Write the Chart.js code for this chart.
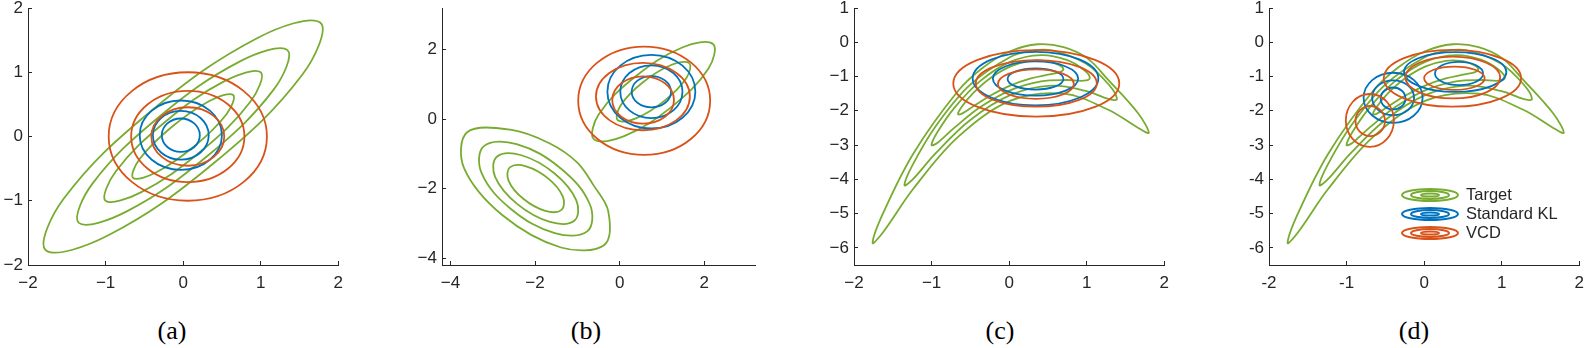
<!DOCTYPE html>
<html>
<head>
<meta charset="utf-8">
<script src="https://cdn.jsdelivr.net/npm/chart.js@4.4.1/dist/chart.umd.min.js"></script>
<style>
  body { margin: 0; width: 1589px; height: 348px; overflow: hidden; background: #fff; position: relative; font-family: "Liberation Sans", Arial, sans-serif; }
  .panel { position: absolute; top: -12px; }
  .cap { position: absolute; top: 316px; width: 80px; margin-left: -40px; text-align: center; font: 26px "Liberation Serif", "Times New Roman", serif; color: #000; }
  #legend { position: absolute; left: 1400px; top: 185px; font-size: 16.5px; color: #262626; }
  .row { height: 19px; display: flex; align-items: center; }
  .row canvas { margin-right: 6px; }
</style>
</head>
<body>
<canvas id="pa" class="panel" width="355" height="312" style="left:0px"></canvas>
<canvas id="pb" class="panel" width="355" height="312" style="left:414px"></canvas>
<canvas id="pc" class="panel" width="355" height="312" style="left:826px"></canvas>
<canvas id="pd" class="panel" width="355" height="312" style="left:1241px"></canvas>
<div class="cap" style="left:172px">(a)</div>
<div class="cap" style="left:586px">(b)</div>
<div class="cap" style="left:1000px">(c)</div>
<div class="cap" style="left:1414px">(d)</div>
<div id="legend"></div>
<script>
// contour lines, each one a closed list of [x, y] points

// (a) correlated Gaussian
const targetA = [
  [[1.77,1.77],[0.965,1.538],[-0.405,0.405],[-1.538,-0.965],[-1.77,-1.77],[-0.965,-1.538],[0.405,-0.405],[1.538,0.965]],
  [[1.345,1.345],[0.733,1.169],[-0.308,0.308],[-1.169,-0.733],[-1.345,-1.345],[-0.733,-1.169],[0.308,-0.308],[1.169,0.733]],
  [[1,1],[0.545,0.869],[-0.229,0.229],[-0.869,-0.545],[-1,-1],[-0.545,-0.869],[0.229,-0.229],[0.869,0.545]],
  [[0.645,0.645],[0.351,0.561],[-0.148,0.148],[-0.561,-0.351],[-0.645,-0.645],[-0.351,-0.561],[0.148,-0.148],[0.561,0.351]]
];
const klA = [
  [[0.50,0.02],[-0.03,0.56],[-0.56,0.02],[-0.03,-0.52]],
  [[0.33,0.02],[-0.03,0.40],[-0.39,0.02],[-0.03,-0.36]],
  [[0.215,0.02],[-0.03,0.28],[-0.275,0.02],[-0.03,-0.24]]
];
const vcdA = [
  [[1.08,0],[0.06,1.0],[-0.96,0],[0.06,-1.0]],
  [[0.79,0],[0.06,0.71],[-0.67,0],[0.06,-0.71]],
  [[0.53,0],[0.06,0.455],[-0.41,0],[0.06,-0.455]]
];

// (b) mixture of two Gaussians
const targetB = [
  [[-0.363,-3.622],[-0.27,-2.65],[-0.62,-1.90],[-1.0,-1.25],[-1.65,-0.70],[-2.583,-0.304],[-3.607,-0.378],[-3.681,-1.402],[-2.761,-2.776],[-1.387,-3.696]],
  [[-0.761,-3.224],[-0.705,-2.451],[-1.399,-1.414],[-2.436,-0.72],[-3.209,-0.776],[-3.265,-1.549],[-2.571,-2.586],[-1.534,-3.28]],
  [[-1.067,-2.918],[-1.025,-2.338],[-1.545,-1.56],[-2.323,-1.04],[-2.903,-1.082],[-2.945,-1.662],[-2.425,-2.44],[-1.647,-2.96]],
  [[-1.373,-2.612],[-1.345,-2.226],[-1.692,-1.707],[-2.211,-1.36],[-2.597,-1.388],[-2.625,-1.775],[-2.278,-2.293],[-1.76,-2.64]],
  [[2.207,2.162],[1.493,2.070],[0.373,1.228],[-0.497,0.130],[-0.607,-0.582],[0.107,-0.490],[1.227,0.352],[2.097,1.450]],
  [[1.644,1.613],[1.216,1.558],[0.544,1.053],[0.022,0.394],[-0.044,-0.033],[0.384,0.022],[1.056,0.527],[1.578,1.186]]
];
const klB = [
  [[1.79,0.79],[0.75,1.85],[-0.29,0.79],[0.75,-0.27]],
  [[1.485,0.79],[0.75,1.55],[0.015,0.79],[0.75,0.03]],
  [[1.215,0.79],[0.75,1.24],[0.285,0.79],[0.75,0.34]]
];
const vcdB = [
  [[2.14,0.53],[0.58,2.09],[-0.98,0.53],[0.58,-1.03]],
  [[1.66,0.65],[0.55,1.62],[-0.56,0.65],[0.55,-0.32]],
  [[1.285,0.55],[0.555,1.23],[-0.175,0.55],[0.555,-0.13]]
];

// (c) and (d) banana-shaped target
const targetBanana = [
  [[1.80,-2.64],[1.665,-2.08],[1.278,-1.10],[1.01,-0.47],[0.702,-0.14],[0.367,-0.058],[0.02,-0.256],[-0.327,-0.724],[-0.662,-1.431],[-1.238,-3.259],[-1.625,-4.989],
   [-1.76,-5.858],[-1.625,-5.543],[-1.238,-4.283],[-0.662,-2.769],[0.02,-1.704],[0.702,-1.50],[1.278,-1.97],[1.665,-2.50]],
  [[1.39,-1.66],[1.286,-1.24],[0.989,-0.62],[0.545,-0.237],[0.287,-0.249],[0.02,-0.423],[-0.505,-1.245],[-0.949,-2.456],[-1.246,-3.586],
   [-1.35,-4.173],[-1.246,-4.012],[-0.949,-3.244],[-0.505,-2.275],[0.02,-1.537],[0.545,-1.267],[0.989,-1.42],[1.286,-1.66]],
  [[1.04,-1.042],[0.962,-0.804],[0.741,-0.515],[0.411,-0.375],[0.02,-0.565],[-0.371,-1.126],[-0.701,-1.899],[-0.922,-2.613],
   [-1.0,-3.0],[-0.922,-2.931],[-0.701,-2.485],[-0.371,-1.892],[0.02,-1.395],[0.411,-1.141],[0.741,-1.101],[0.962,-1.122]],
  [[0.70,-0.79],[0.648,-0.666],[0.501,-0.554],[0.28,-0.542],[0.02,-0.703],[-0.24,-1.042],[-0.461,-1.478],[-0.608,-1.872],
   [-0.66,-2.096],[-0.608,-2.084],[-0.461,-1.87],[-0.24,-1.554],[0.02,-1.257],[0.28,-1.054],[0.501,-0.946],[0.648,-0.878]]
];
const klC = [
  [[1.15,-1.06],[0.34,-0.28],[-0.47,-1.06],[0.34,-1.84]],
  [[0.89,-1.06],[0.34,-0.56],[-0.21,-1.06],[0.34,-1.56]],
  [[0.70,-1.07],[0.34,-0.76],[-0.02,-1.07],[0.34,-1.38]]
];
const vcdC = [
  [[1.42,-1.2],[0.35,-0.23],[-0.72,-1.2],[0.35,-2.17]],
  [[1.13,-1.2],[0.35,-0.52],[-0.43,-1.2],[0.35,-1.88]],
  [[0.835,-1.22],[0.345,-0.79],[-0.145,-1.22],[0.345,-1.65]]
];
const klD = [
  [[-0.02,-1.62],[-0.40,-0.89],[-0.78,-1.62],[-0.40,-2.35]],
  [[-0.13,-1.62],[-0.40,-1.11],[-0.67,-1.62],[-0.40,-2.13]],
  [[-0.24,-1.64],[-0.40,-1.32],[-0.56,-1.64],[-0.40,-1.96]],
  [[1.06,-0.87],[0.40,-0.29],[-0.26,-0.87],[0.40,-1.45]],
  [[0.76,-0.91],[0.45,-0.57],[0.14,-0.91],[0.45,-1.25]]
];
const vcdD = [
  [[-0.39,-2.28],[-0.70,-1.51],[-1.01,-2.28],[-0.70,-3.05]],
  [[-0.505,-2.30],[-0.695,-1.86],[-0.885,-2.30],[-0.695,-2.74]],
  [[1.25,-1.05],[0.364,-0.22],[-0.52,-1.05],[0.364,-1.88]],
  [[0.98,-1.03],[0.37,-0.42],[-0.24,-1.03],[0.37,-1.64]],
  [[0.78,-1.05],[0.39,-0.71],[0.0,-1.05],[0.39,-1.39]]
];

// axes
const ticksUnit = [-2, -1, 0, 1, 2];
const ticksB = [-4, -2, 0, 2];
const ticksBananaY = [-6, -5, -4, -3, -2, -1, 0, 1];
const legendLabels = ['Target', 'Standard KL', 'VCD'];

const GREEN = '#77AC30', BLUE = '#0072BD', ORANGE = '#D95319', INK = '#262626';
const TICK_FONT = { family: '"Liberation Sans", Arial, sans-serif', size: 17 };

// a closed curve: repeat neighbours at both ends and hide the two padding segments
function contourSets(list, color) {
  return list.map(pts => {
    const n = pts.length;
    const wrapped = [pts[n - 1], ...pts, pts[0], pts[1]].map(p => ({ x: p[0], y: p[1] }));
    const last = wrapped.length - 1;
    return {
      data: wrapped,
      showLine: true,
      borderColor: color,
      borderWidth: 1.8,
      pointRadius: 0,
      pointHoverRadius: 0,
      fill: false,
      tension: n <= 4 ? 0.552 : (n <= 8 ? 0.38 : 0.35),
      segment: {
        borderColor: c => (c.p0DataIndex === 0 || c.p1DataIndex === last) ? 'rgba(0,0,0,0)' : undefined
      }
    };
  });
}

function axis(range, ticks, minus, horizontal) {
  return {
    type: 'linear',
    min: range[0],
    max: range[1],
    grid: { drawOnChartArea: false, drawTicks: true, tickLength: -4, color: INK, lineWidth: 1 },
    border: { display: true, color: INK, width: 1 },
    ticks: {
      font: TICK_FONT,
      color: INK,
      padding: horizontal ? 12 : 9,
      maxRotation: 0,
      autoSkip: false,
      callback: v => String(v).replace('-', minus)
    },
    afterBuildTicks: s => { s.ticks = ticks.map(v => ({ value: v })); },
    afterFit: s => { if (horizontal) s.height = 35; else s.width = 28; }
  };
}

function makePanel(id, sets, xRange, yRange, xTicks, yTicks, minus) {
  new Chart(document.getElementById(id), {
    type: 'scatter',
    data: { datasets: sets },
    options: {
      responsive: false,
      animation: false,
      devicePixelRatio: 1,
      layout: { padding: { left: 0, top: 20, right: 14, bottom: 0 } },
      plugins: { legend: { display: false }, tooltip: { enabled: false } },
      events: [],
      scales: {
        x: axis(xRange, xTicks, minus, true),
        y: axis(yRange, yTicks, minus, false)
      }
    }
  });
}

const MINUS = '\u2212';
makePanel('pa', [...contourSets(vcdA, ORANGE), ...contourSets(klA, BLUE), ...contourSets(targetA, GREEN)],
  [-2, 2], [-2, 2], ticksUnit, ticksUnit, MINUS);
makePanel('pb', [...contourSets(vcdB, ORANGE), ...contourSets(klB, BLUE), ...contourSets(targetB, GREEN)],
  [-4.2, 3.2], [-4.2, 3.2], ticksB, ticksB, MINUS);
makePanel('pc', [...contourSets(vcdC, ORANGE), ...contourSets(klC, BLUE), ...contourSets(targetBanana, GREEN)],
  [-2, 2], [-6.5, 1], ticksUnit, ticksBananaY, MINUS);
makePanel('pd', [...contourSets(vcdD, ORANGE), ...contourSets(klD, BLUE), ...contourSets(targetBanana, GREEN)],
  [-2, 2], [-6.5, 1], ticksUnit, ticksBananaY, '-');

// legend of panel (d): nested-ellipse icons
const legendColors = [GREEN, BLUE, ORANGE];
const legend = document.getElementById('legend');
legendLabels.forEach((label, i) => {
  const row = document.createElement('div');
  row.className = 'row';
  const icon = document.createElement('canvas');
  icon.width = 60; icon.height = 16;
  const g = icon.getContext('2d');
  g.strokeStyle = legendColors[i];
  g.lineWidth = 2;
  [[28, 6], [19, 4], [9, 1.6]].forEach(([rx, ry]) => {
    g.beginPath();
    g.ellipse(30, 8, rx, ry, 0, 0, Math.PI * 2);
    g.stroke();
  });
  const text = document.createElement('span');
  text.textContent = label;
  row.appendChild(icon);
  row.appendChild(text);
  legend.appendChild(row);
});
</script>
</body>
</html>
